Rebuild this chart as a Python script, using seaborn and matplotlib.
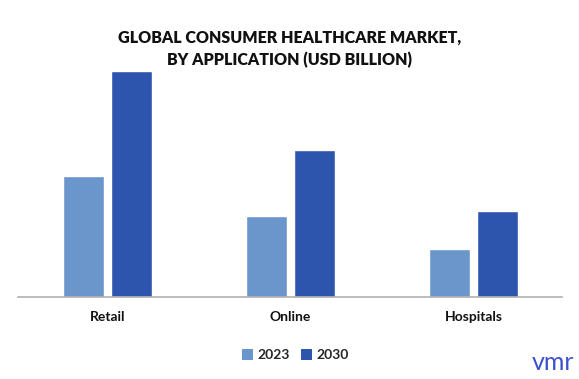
import matplotlib
matplotlib.use("Agg")
import matplotlib.pyplot as plt
import seaborn as sns
import pandas as pd
from matplotlib.patches import Patch

categories = ["Retail", "Online", "Hospitals"]
years = ["2023", "2030"]
values_2023 = [121, 81, 48]
values_2030 = [226, 147, 86]

df = pd.DataFrame({
    "Application": categories * 2,
    "Year": [years[0]] * 3 + [years[1]] * 3,
    "Value": values_2023 + values_2030,
})

sns.set_theme(style="white")
plt.rcParams["font.family"] = ["Lato", "DejaVu Sans"]

colors = {"2023": "#6a96cb", "2030": "#2e55ae"}

fig = plt.figure(figsize=(5.79, 3.79), dpi=100)
ax = fig.add_axes([0.031, 0.216, 0.94, 0.626])
sns.barplot(data=df, x="Application", y="Value", hue="Year", palette=colors,
            width=0.524, gap=0.145, ax=ax, legend=False, saturation=1)
ax.set_xlim(-0.49, 2.485)
ax.set_ylim(0, 237)
ax.set_xlabel("")
ax.set_ylabel("")
ax.set_yticks([])
for s in ["top", "right", "left"]:
    ax.spines[s].set_visible(False)
ax.spines["bottom"].set_color("#b0b0b0")
ax.spines["bottom"].set_linewidth(1.2)
ax.tick_params(axis="x", length=0, pad=10)
for lab in ax.get_xticklabels():
    lab.set_fontweight("bold")
    lab.set_fontsize(10)
    lab.set_color("#111111")

fig.text(0.5, 0.872, "GLOBAL CONSUMER HEALTHCARE MARKET,\nBY APPLICATION (USD BILLION)",
         ha="center", va="center", fontsize=11.5, fontweight="heavy",
         color="#111111", linespacing=1.45)

handles = [Patch(facecolor=colors[y], edgecolor="none", label=y) for y in years]
fig.legend(handles=handles, loc="center", bbox_to_anchor=(0.51, 0.063), ncol=2,
           frameon=False, handlelength=0.8, handleheight=0.8, handletextpad=0.3,
           columnspacing=0.8, prop={"weight": "bold", "size": 10})

fig.text(0.955, 0.012, "vmr", ha="center", va="bottom", fontsize=18,
         color="#3b50d0")

fig.savefig("out.png", dpi=100)
